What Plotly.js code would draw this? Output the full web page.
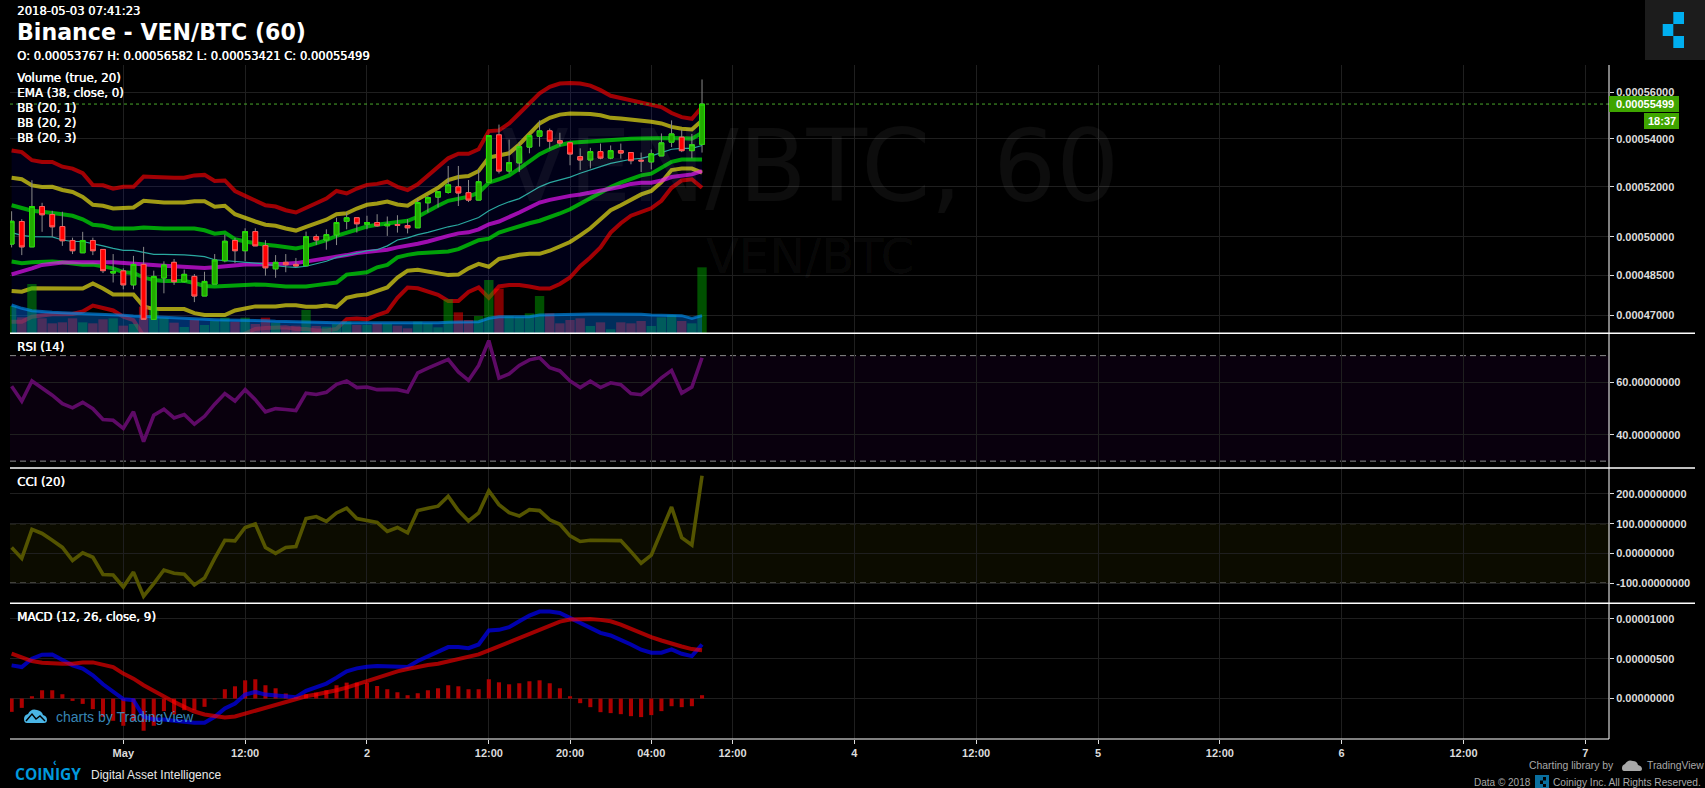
<!DOCTYPE html>
<html><head><meta charset="utf-8">
<script src="https://cdn.plot.ly/plotly-3.0.1.min.js"></script>
<style>html,body{margin:0;padding:0;background:#000;overflow:hidden}#c{width:1705px;height:788px}</style>
</head><body><div id="c"></div>
<script>
// hours relative to 2018-05-01 00:00
const hours=[-11,-10,-9,-8,-7,-6,-5,-4,-3,-2,-1,0,1,2,3,4,5,6,7,8,9,10,11,12,13,14,15,16,17,18,19,20,21,22,23,24,25,26,27,28,29,30,31,32,33,34,35,36,37,38,39,40,41,42,43,44,45,46,47,48,49,50,51,52,53,54,55,56,57];
// prices in 1e-5 BTC
const openP=[49.71,50.60,49.60,51.20,50.88,50.40,49.85,49.37,49.85,49.50,48.59,48.67,48.14,48.92,46.85,48.40,49.00,48.26,48.46,47.72,48.17,49.06,49.85,49.45,50.20,49.65,48.75,49.00,48.92,48.87,50.00,49.87,50.07,50.61,50.75,50.49,50.56,50.43,50.48,50.44,50.35,51.35,51.58,51.77,52.00,51.76,51.46,52.19,54.17,52.65,52.99,53.65,54.11,54.34,53.92,53.83,53.25,53.11,53.46,53.19,53.50,53.42,53.10,53.03,53.28,53.86,54.07,53.50,53.767];
const highP=[51.01,50.69,52.27,51.35,51.03,50.99,49.96,50.19,49.96,49.50,49.32,48.77,49.25,49.60,48.68,49.04,49.13,48.72,48.55,48.64,49.32,50.08,49.95,50.33,50.33,49.86,49.28,49.32,49.17,50.20,50.09,50.29,50.75,50.96,50.75,50.83,50.89,50.80,50.85,50.69,51.52,51.62,51.80,52.86,52.86,52.28,52.69,54.14,54.61,53.97,53.86,54.19,54.79,54.44,54.26,53.83,53.60,53.62,53.80,53.72,53.80,53.42,53.42,53.55,54.23,54.79,54.40,54.21,56.582];
const lowP=[49.58,49.28,49.60,50.19,49.99,49.64,49.32,49.36,49.28,48.59,48.23,47.97,47.97,46.85,46.85,47.82,48.14,48.23,47.49,47.72,48.17,49.00,48.97,49.05,49.64,48.49,48.41,48.62,48.84,48.87,49.67,49.49,49.67,50.29,50.16,50.29,50.39,50.03,50.16,50.13,50.35,50.96,51.16,51.72,51.22,51.38,51.46,52.19,52.55,52.55,52.61,53.39,53.67,53.58,53.69,52.89,52.69,52.76,53.14,53.14,53.17,52.93,52.61,52.72,53.28,53.65,53.44,53.18,53.421];
const closeP=[50.61,49.60,51.20,50.87,50.39,49.84,49.45,49.85,49.45,48.68,48.65,48.14,48.92,46.85,48.46,48.90,48.26,48.54,47.72,48.27,49.09,49.82,49.45,50.20,49.64,48.79,49.00,48.91,48.86,50.00,49.87,50.08,50.56,50.75,50.51,50.56,50.43,50.49,50.45,50.35,51.36,51.56,51.80,52.08,51.75,51.46,52.21,54.14,52.65,53.00,53.67,54.14,54.34,53.90,53.82,53.36,53.11,53.46,53.19,53.50,53.40,53.08,53.07,53.37,53.83,54.21,53.50,53.75,55.499];
const bb3Up=[53.51,53.44,53.10,53.03,53.03,52.83,52.75,52.56,52.07,52.06,51.92,52.00,52.00,52.42,52.40,52.37,52.37,52.37,52.47,52.49,52.24,52.26,51.83,51.63,51.43,51.25,51.20,51.05,50.96,51.16,51.36,51.52,51.83,51.73,51.93,52.08,52.12,52.21,52.00,51.87,52.10,52.47,52.79,53.18,53.37,53.37,53.56,54.33,54.36,54.66,55.09,55.51,55.97,56.26,56.40,56.43,56.40,56.31,56.11,55.86,55.76,55.64,55.54,55.47,55.37,55.11,54.93,54.86,55.37];
const bb2Up=[52.37,52.31,52.06,51.99,52.00,51.87,51.79,51.59,51.27,51.23,51.12,51.16,51.16,51.43,51.39,51.36,51.36,51.36,51.41,51.41,51.19,51.23,50.89,50.73,50.60,50.47,50.43,50.32,50.24,50.39,50.53,50.67,50.89,50.93,51.12,51.27,51.32,51.40,51.28,51.23,51.49,51.73,51.96,52.28,52.40,52.44,52.65,53.21,53.28,53.39,53.76,54.19,54.66,54.90,55.04,55.09,55.09,55.07,55.01,54.90,54.87,54.83,54.77,54.73,54.66,54.51,54.43,54.40,54.79];
const bb1Up=[51.25,51.16,51.03,50.99,50.96,50.89,50.83,50.69,50.47,50.43,50.32,50.32,50.32,50.36,50.33,50.32,50.32,50.32,50.32,50.25,50.12,50.16,49.90,49.81,49.73,49.68,49.64,49.58,49.54,49.62,49.73,49.86,50.03,50.16,50.27,50.40,50.47,50.53,50.55,50.63,50.79,51.03,51.23,51.43,51.53,51.60,51.76,52.17,52.31,52.47,52.75,53.07,53.35,53.56,53.74,53.83,53.86,53.92,53.94,53.94,53.97,54.00,54.01,54.03,54.04,54.04,54.03,54.01,54.26];
const bbBasis=[50.16,50.05,50.00,49.99,49.99,49.87,49.81,49.81,49.73,49.64,49.54,49.46,49.46,49.38,49.31,49.31,49.31,49.29,49.26,49.22,49.10,49.06,49.03,49.00,48.97,48.94,48.87,48.83,48.81,48.85,48.94,49.04,49.19,49.26,49.36,49.45,49.49,49.64,49.87,49.95,50.08,50.17,50.29,50.39,50.47,50.63,50.76,51.03,51.23,51.39,51.52,51.76,52.00,52.17,52.28,52.40,52.56,52.68,52.83,52.97,53.07,53.14,53.18,53.28,53.42,53.56,53.60,53.60,53.72];
const ema38=[48.54,48.64,48.77,48.90,48.96,48.99,49.00,49.01,49.01,49.00,49.00,48.97,48.95,48.90,48.90,48.87,48.85,48.82,48.78,48.78,48.81,48.85,48.88,48.92,48.92,48.92,48.92,48.95,48.97,49.03,49.09,49.13,49.19,49.28,49.36,49.41,49.45,49.49,49.58,49.64,49.72,49.81,49.90,50.03,50.13,50.17,50.29,50.49,50.60,50.76,50.96,51.16,51.36,51.47,51.56,51.63,51.69,51.76,51.83,51.89,52.00,52.12,52.17,52.17,52.26,52.40,52.44,52.51,52.65];
const bb1Lo=[49.03,48.97,49.00,49.03,49.03,49.00,48.96,48.91,48.92,48.83,48.77,48.62,48.59,48.42,48.32,48.29,48.29,48.29,48.21,48.10,48.08,48.10,48.14,48.15,48.15,48.14,48.10,48.08,48.08,48.08,48.13,48.19,48.23,48.53,48.59,48.62,48.81,48.90,49.19,49.29,49.35,49.37,49.38,49.42,49.51,49.68,49.86,49.92,50.16,50.29,50.43,50.53,50.63,50.76,50.92,51.09,51.29,51.53,51.76,51.99,52.17,52.33,52.47,52.54,52.79,53.03,53.13,53.13,53.13];
const bb2Lo=[47.91,47.88,48.01,48.00,48.00,48.00,48.00,48.00,48.19,48.00,47.78,47.78,47.78,47.33,47.23,47.23,47.23,47.23,47.08,47.01,47.01,47.01,47.18,47.26,47.33,47.33,47.33,47.37,47.37,47.32,47.32,47.36,47.31,47.65,47.74,47.78,47.91,48.04,48.42,48.68,48.71,48.64,48.59,48.51,48.53,48.77,48.94,48.83,49.13,49.22,49.29,49.33,49.33,49.45,49.62,49.79,50.05,50.33,50.69,51.05,51.25,51.49,51.69,51.83,52.19,52.69,52.75,52.75,52.58];
const bb3Lo=[46.76,46.76,46.95,47.01,47.04,47.04,47.05,47.14,47.36,47.27,47.18,46.95,46.82,46.24,45.92,45.92,45.92,45.92,45.73,45.67,45.67,45.79,46.12,46.33,46.50,46.53,46.54,46.56,46.50,46.50,46.44,46.44,46.50,46.86,46.88,46.85,47.01,47.14,47.65,48.04,48.01,47.88,47.76,47.53,47.53,47.87,48.04,47.65,48.08,48.13,48.13,48.08,48.00,48.00,48.17,48.42,48.85,49.19,49.58,50.16,50.53,50.83,51.00,51.13,51.43,51.96,52.26,52.31,51.96];
// volume, relative units
const volume=[81,47,147,44,29,32,44,32,29,41,44,22,27,79,69,46,31,18,39,24,36,46,34,46,27,46,31,17,22,69,21,19,27,34,24,24,29,27,22,14,34,29,17,101,62,39,51,159,133,51,49,59,111,59,29,39,44,21,32,11,32,29,36,21,47,54,36,29,197];
const volumeMA=[84,74,67,64,62,61,60,59,58,57,55,53,51,49,48,47,46,44,43,41,40,39,39,39,38,37,35,34,33,33,32,32,31,31,31,31,30,30,29,29,30,30,31,32,33,33,34,44,49,49,49,49,54,55,56,57,57,57,57,57,57,56,56,54,54,54,52,44,52];
const rsi=[58.4,52.7,60.4,57.9,55.0,51.8,50.2,52.3,49.9,45.8,45.5,42.4,48.7,37.4,47.4,49.7,46.4,47.7,44.0,47.0,51.6,55.6,52.8,57.1,53.3,48.7,49.9,49.6,49.2,55.8,55.3,56.1,59.1,60.4,57.9,58.1,57.1,57.2,57.1,56.2,63.5,65.3,66.9,68.6,63.8,60.6,66.3,75.7,61.5,63.1,66.3,68.4,69.2,65.4,64.2,60.4,57.9,60.3,57.9,59.7,59.0,55.6,55.2,58.1,61.6,64.4,55.8,58.1,69.2];
const cci=[20,-17,81,67,44,20,-24,2,-13,-71,-73,-113,-63,-144,-102,-56,-67,-70,-106,-83,-17,44,42,87,99,20,0,20,23,117,124,108,136,152,117,111,104,74,87,69,144,152,159,192,144,109,136,211,164,137,126,147,144,113,98,59,40,44,44,44,43,6,-33,-6,78,156,53,28,261];
// MACD in 1e-6
const macdLine=[4.17,3.96,5.0,5.5,5.54,4.88,4.17,3.75,2.92,1.79,.83,-.08,-.21,-2.29,-2.63,-2.63,-2.79,-2.92,-3.04,-3.04,-2.29,-1.25,-.63,.5,.83,.5,.42,.33,.17,.96,1.38,1.88,2.63,3.42,3.79,4.0,4.08,4.08,4.08,3.96,4.71,5.29,5.83,6.46,6.46,6.33,6.79,8.54,8.63,8.96,9.71,10.42,10.92,10.92,10.75,10.13,9.46,8.88,8.25,7.92,7.38,6.79,6.13,5.75,5.75,6.17,5.63,5.33,6.79];
const macdSignal=[5.63,5.13,4.71,4.5,4.38,4.38,4.38,4.54,4.54,4.29,3.96,3.13,2.5,1.67,.96,.21,-.42,-1.04,-1.63,-2.0,-2.25,-2.38,-2.25,-1.88,-1.54,-1.25,-.88,-.46,-.04,.29,.5,.75,1.04,1.38,1.79,2.17,2.58,3.04,3.42,3.71,4.0,4.21,4.38,4.67,5.0,5.29,5.54,6.04,6.54,7.08,7.63,8.13,8.67,9.17,9.67,9.92,9.96,10.0,9.88,9.71,9.29,8.75,8.25,7.71,7.29,6.88,6.54,6.21,6.08];
const macdHist=[-1.67,-1.17,.29,1.04,1.04,.54,-.29,-.67,-1.33,-2.29,-2.79,-3.42,-2.79,-4.04,-3.42,-1.58,-2.0,-1.46,-1.46,-1.04,-.1,1.17,1.54,2.29,2.42,1.67,1.29,.63,.21,.54,.75,1.04,1.67,2.0,2.0,1.96,1.58,1.17,.79,.42,.67,1.04,1.29,1.67,1.54,1.17,1.17,2.42,2.04,1.79,1.92,2.17,2.29,1.92,1.29,.29,-.58,-1.08,-1.71,-1.83,-1.96,-2.21,-2.33,-2.08,-1.58,-.96,-1.08,-.96,.42];
const priceTicks=[47,48.5,50,52,54,56];
const rsiTicks=[40,60];
const cciTicks=[-100,0,100,200];
const macdTicks=[0,5,10];
const timeTickVals=[0,12,24,36,44,52,60,72,84,96,108,120,132,144];
const timeTickText=['<b>May</b>','12:00','2','12:00','20:00','04:00','12:00','4','12:00','5','12:00','6','12:00','7'];

const e5=a=>a.map(v=>v*1e-5), e6=a=>a.map(v=>v*1e-6);
const L=10,R=1609,T=65,B=739;
const px=v=>(v-L)/(R-L), py=v=>(B-v)/(B-T);
const sans='"Liberation Sans",Arial,sans-serif', dv='"DejaVu Sans",sans-serif';

const line=(y,color,width,name)=>({type:'scatter',mode:'lines',x:hours,y:e5(y),name,line:{color,width,shape:'linear'},xaxis:'x',yaxis:'y',hoverinfo:'skip',cliponaxis:true});
const traces=[];
traces.push({...line(bb3Up,'rgba(0,0,0,0)',0,'fillTop')});
traces.push({...line(bb3Lo,'rgba(0,0,0,0)',0,'fillBottom'),fill:'tonexty',fillcolor:'rgba(0,0,255,0.09)'});
[[bb3Up,'rgba(255,0,0,.63)'],[bb3Lo,'rgba(255,0,0,.63)'],[bb2Up,'rgba(255,245,20,.63)'],[bb2Lo,'rgba(255,245,20,.63)'],[bb1Up,'rgba(0,255,0,.63)'],[bb1Lo,'rgba(0,255,0,.63)']].forEach(([a,c])=>traces.push(line(a,c,4)));
traces.push(line(ema38,'rgba(240,20,255,.66)',4));
traces.push(line(bbBasis,'#2aa8a0',1.2));
const last=closeP[closeP.length-1];
traces.push({type:'scatter',mode:'lines',x:[-11.16,146.33],y:e5([last,last]),xaxis:'x',yaxis:'y',line:{color:'#4aa82a',width:1,dash:'dot'},hoverinfo:'skip'});
// volume
traces.push({type:'bar',x:hours,y:volume,width:.92,xaxis:'x',yaxis:'y5',hoverinfo:'skip',
  marker:{color:closeP.map((c,i)=>c>=openP[i]?'rgba(0,190,0,.42)':'rgba(255,0,0,.5)'),line:{width:0}}});
traces.push({type:'scatter',mode:'lines',x:hours,y:volumeMA,xaxis:'x',yaxis:'y5',fill:'tozeroy',fillcolor:'rgba(0,110,220,.42)',line:{color:'rgba(0,140,235,.65)',width:3},hoverinfo:'skip'});
// candles: gray wicks, then bodies
const cBase={type:'candlestick',x:hours,xaxis:'x',yaxis:'y6',whiskerwidth:0,hoverinfo:'skip'};
traces.push({...cBase,open:e5(openP),high:e5(highP),low:e5(lowP),close:e5(closeP),
  increasing:{line:{color:'#8a8a8a',width:1},fillcolor:'rgba(0,0,0,0)'},decreasing:{line:{color:'#8a8a8a',width:1},fillcolor:'rgba(0,0,0,0)'}});
traces.push({...cBase,open:e5(openP),close:e5(closeP),
  high:e5(openP.map((o,i)=>Math.max(o,closeP[i]))),low:e5(openP.map((o,i)=>Math.min(o,closeP[i]))),
  increasing:{line:{color:'#22e000',width:1},fillcolor:'#22aa00'},decreasing:{line:{color:'#ff5a5a',width:1},fillcolor:'#ff0000'}});
// RSI, CCI
traces.push({type:'scatter',mode:'lines',x:hours,y:rsi,xaxis:'x',yaxis:'y2',line:{color:'#5e0a66',width:3.6},hoverinfo:'skip'});
traces.push({type:'scatter',mode:'lines',x:hours,y:cci,xaxis:'x',yaxis:'y3',line:{color:'#545400',width:3.6},hoverinfo:'skip'});
// MACD
traces.push({type:'bar',x:hours,y:e6(macdHist),width:.4,xaxis:'x',yaxis:'y4',marker:{color:'#ad0000',line:{width:0}},hoverinfo:'skip'});
traces.push({type:'scatter',mode:'lines',x:hours,y:e6(macdLine),xaxis:'x',yaxis:'y4',line:{color:'rgba(0,0,255,.68)',width:4},hoverinfo:'skip'});
traces.push({type:'scatter',mode:'lines',x:hours,y:e6(macdSignal),xaxis:'x',yaxis:'y4',line:{color:'rgba(255,0,0,.63)',width:4},hoverinfo:'skip'});

const tickFont={family:sans,size:11,color:'#dcdcdc',weight:'bold'};
const yBase={side:'right',anchor:'x',tickmode:'array',showgrid:true,gridcolor:'#1f1f1f',gridwidth:1,zeroline:false,ticks:'outside',ticklen:4,tickcolor:'#ddd',tickwidth:1,tickfont:tickFont,showline:false,automargin:false};
const hidden={overlaying:'y',anchor:'x',visible:false,showgrid:false,zeroline:false};
const priceRange=[-3.33395,-3.24237];
const fmt=(v,d)=>v.toFixed(d);
const layout={
  width:1705,height:788,paper_bgcolor:'#000',plot_bgcolor:'#000',showlegend:false,
  margin:{l:L,r:1705-R,t:T,b:788-B,pad:0},barmode:'overlay',boxgap:.33,hovermode:false,
  xaxis:{anchor:'y4',domain:[0,1],range:[-11.16,146.33],tickmode:'array',tickvals:timeTickVals,ticktext:timeTickText,showgrid:true,gridcolor:'#1f1f1f',gridwidth:1,zeroline:false,ticks:'outside',ticklen:4,tickcolor:'#ddd',tickfont:{family:sans,size:11,color:'#dcdcdc',weight:'bold'},rangeslider:{visible:false},showline:false,fixedrange:true},
  yaxis:{...yBase,domain:[py(333),1],type:'log',range:priceRange,tickvals:e5(priceTicks),ticktext:priceTicks.map(v=>fmt(v*1e-5,8))},
  yaxis2:{...yBase,domain:[py(468),py(334)],range:[27.4,78.2],tickvals:rsiTicks,ticktext:rsiTicks.map(v=>fmt(v,8))},
  yaxis3:{...yBase,domain:[py(603),py(469)],range:[-167,284],tickvals:cciTicks,ticktext:cciTicks.map(v=>fmt(v,8))},
  yaxis4:{...yBase,domain:[0,py(604)],range:[-5.08e-6,11.875e-6],tickvals:e6(macdTicks),ticktext:macdTicks.map(v=>fmt(v*1e-6,8))},
  yaxis5:{...hidden,domain:[py(333),1],range:[0,804]},
  yaxis6:{...hidden,domain:[py(333),1],type:'log',range:priceRange},
  shapes:[],annotations:[]
};
const S=layout.shapes, A=layout.annotations;
const rect=(x0,y0,x1,y1,fill,layer)=>S.push({type:'rect',xref:'paper',yref:'paper',x0:px(x0),x1:px(x1),y0:py(y0),y1:py(y1),fillcolor:fill,line:{width:0},layer:layer||'above'});
const hline=(x0,x1,y,c,w)=>S.push({type:'line',xref:'paper',yref:'paper',x0:px(x0),x1:px(x1),y0:py(y),y1:py(y),line:{color:c,width:w||1}});
const txt=(x,y,text,size,color,family,extra)=>A.push({xref:'paper',yref:'paper',x:px(x),y:py(y),xanchor:'left',yanchor:'middle',text,showarrow:false,borderpad:0,font:{size,color,family,...(extra||{})}});
// bands
S.push({type:'rect',xref:'paper',yref:'y2',x0:0,x1:1,y0:30,y1:70,fillcolor:'rgba(140,0,200,.065)',line:{width:0},layer:'below'});
S.push({type:'rect',xref:'paper',yref:'y3',x0:0,x1:1,y0:-100,y1:100,fillcolor:'rgba(150,150,0,.08)',line:{width:0},layer:'below'});
[['y2',70],['y2',30],['y3',100],['y3',-100]].forEach(([r,v])=>S.push({type:'line',xref:'paper',yref:r,x0:0,x1:1,y0:v,y1:v,line:{color:'#8c8c8c',width:1,dash:'6px,4px'},layer:'below'}));
// pane frames
hline(L,1695,333.3,'#fff',1.4);hline(L,1695,468,'#fff',1.4);hline(L,1695,603.3,'#fff',1.4);hline(L,R,739,'#fff',1.2);
S.push({type:'line',xref:'paper',yref:'paper',x0:1,x1:1,y0:0,y1:1,line:{color:'#fff',width:1}});
// price tags
rect(R,96,1679,112,'#3fa500');rect(1644,113,1679,129,'#3fa500');
txt(1615,104,'0.00055499',11,'#fff',sans,{weight:'bold'});
txt(1647,121,'18:37',11,'#fff',sans,{weight:'bold'});
// logo
rect(1645,0,1705,60,'#1c1c1c');
rect(1673.3,12,1684,24,'#00aeef');rect(1662.7,24,1673.3,36,'#00aeef');rect(1673.3,36,1684,48,'#00aeef');
// header text
const shade={shadow:'0.5px 0 0 #ffffff'};
txt(15.5,11,'2018-05-03 07:41:23',11.6,'#fff',dv,shade);
txt(15.5,32,'<b>Binance - VEN/BTC (60)</b>',22.1,'#fff',dv);
txt(15.5,56,'O: 0.00053767 H: 0.00056582 L: 0.00053421 C: 0.00055499',11.55,'#fff',dv,shade);
[['Volume (true, 20)',78],['EMA (38, close, 0)',93],['BB (20, 1)',108],['BB (20, 2)',123],['BB (20, 3)',138],['RSI (14)',347],['CCI (20)',482],['MACD (12, 26, close, 9)',617]].forEach(([t,y])=>txt(15.5,y,t,11.8,'#fff',dv,shade));
// watermark
A.push({xref:'paper',yref:'paper',x:px(810),y:py(166),xanchor:'center',yanchor:'middle',text:'VEN/BTC, 60',showarrow:false,font:{size:99,family:dv,color:'rgba(255,255,255,.05)'}});
A.push({xref:'paper',yref:'paper',x:px(810),y:py(256),xanchor:'center',yanchor:'middle',text:'VEN/BTC',showarrow:false,font:{size:48,family:dv,color:'rgba(255,255,255,.05)'}});
// charts by TradingView
txt(55,717,'charts by TradingView',14,'rgba(70,170,225,.8)',sans);
S.push({type:'path',xref:'paper',yref:'paper',xsizemode:'pixel',ysizemode:'pixel',xanchor:px(24),yanchor:py(723),
  path:'M0,4 Q0,8 4,9 Q7,15 13,13 Q18,12 19,8 Q23,7 23,3 Q23,0 20,0 L3,0 Q0,0 0,4 Z',fillcolor:'#4ab5e5',line:{width:0}});
S.push({type:'path',xref:'paper',yref:'paper',xsizemode:'pixel',ysizemode:'pixel',xanchor:px(24),yanchor:py(723),
  path:'M2,2 L8,9 L12,4 L16,7 L21,2',fillcolor:'rgba(0,0,0,0)',line:{color:'#000',width:1.4}});
// footer
txt(14,774,'<b>COINIGY</b>',15.5,'#0099dd','"Open Sans",sans-serif');
txt(52,762,'<b>‹</b>',11,'#0099dd',sans);
txt(90,775,'Digital Asset Intelligence',12,'#e8e8e8',sans);
txt(1528,765,'Charting library by',10.4,'#a8a8a8',sans);
S.push({type:'path',xref:'paper',yref:'paper',xsizemode:'pixel',ysizemode:'pixel',xanchor:px(1622),yanchor:py(771),
  path:'M0,3 Q0,6 3,7 Q6,12 11,10 Q15,10 16,6 Q20,5 20,2 Q20,0 18,0 L2,0 Q0,0 0,3 Z',fillcolor:'#a8a8a8',line:{width:0}});
txt(1646,765,'TradingView',10.3,'#a8a8a8',sans);
txt(1473,782,'Data © 2018',10,'#a8a8a8',sans);
rect(1535,775,1549,788,'#0a6f9f');
rect(1543,777,1546,780.5,'#000');rect(1540,780.5,1543,784,'#000');rect(1543,784,1546,787,'#000');
txt(1552,782,'Coinigy Inc. All Rights Reserved.',10.2,'#a8a8a8',sans);

Plotly.newPlot('c',traces,layout,{displayModeBar:false,staticPlot:true,responsive:false});
</script></body></html>
